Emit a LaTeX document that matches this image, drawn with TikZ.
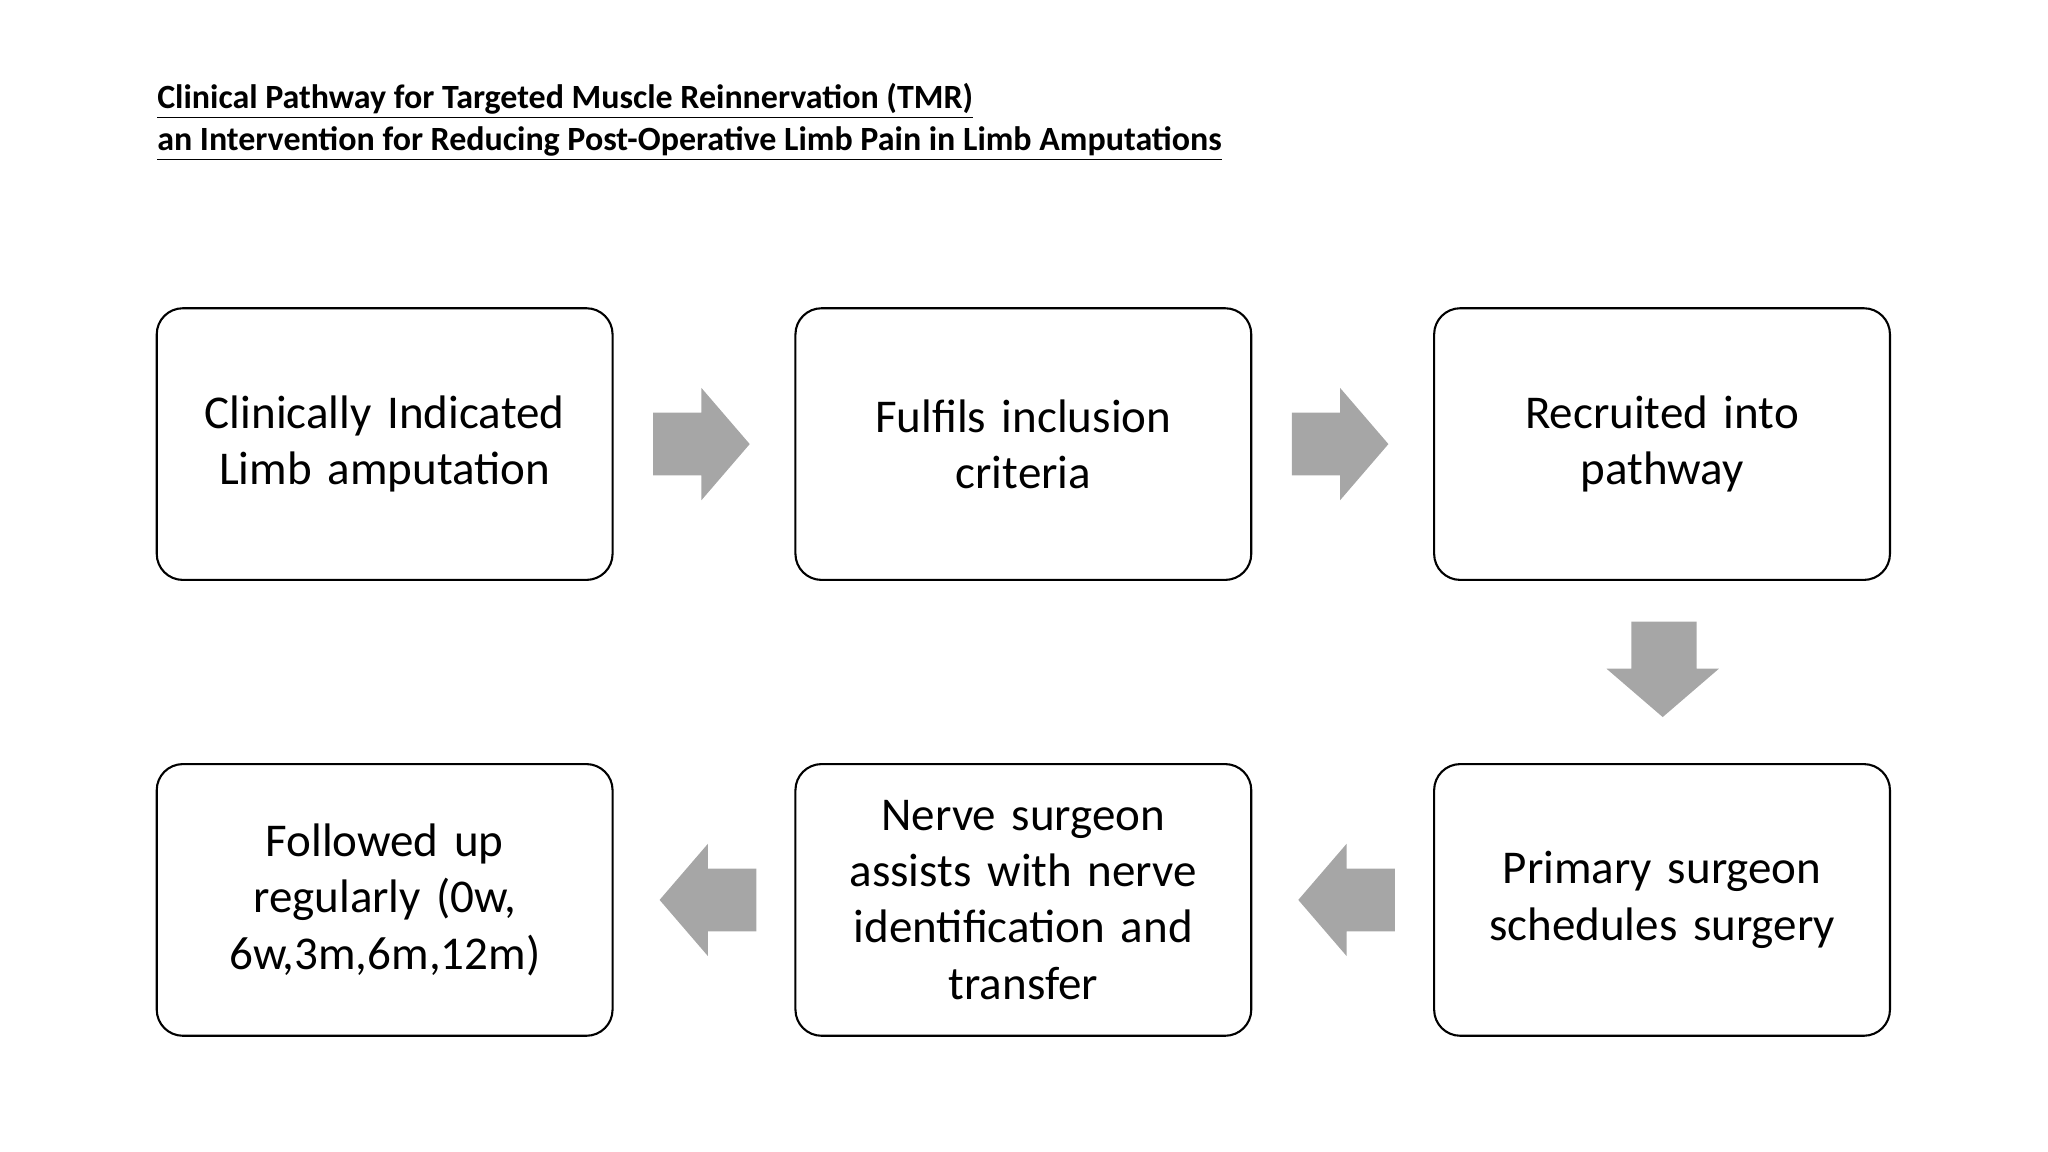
\documentclass[tikz,border=0pt]{standalone}
\usepackage{fontspec}
\setmainfont{Carlito}
\begin{document}
\begin{tikzpicture}[x=0.5pt,y=-0.5pt,
  stepbox/.style={draw=black,line width=0.8pt,rounded corners=10pt,minimum width=174.5pt,minimum height=104pt,align=center,font=\fontsize{18}{21.5}\selectfont,text width=165pt},
  blockarrow/.style={fill=black!35,draw=none},
  ttl/.style={anchor=base west,inner sep=0pt,font=\fontsize{13}{15}\selectfont\bfseries}]
\useasboundingbox (0,0) rectangle (1568,882);
\node[ttl] (t1) at (120,83) {\underline{Clinical Pathway for Targeted Muscle Reinnervation (TMR)}};
\node[ttl] (t2) at (120,115) {\underline{an Intervention for Reducing Post-Operative Limb Pain in Limb Amputations}};
\node[stepbox] (a) at (294.5,340) {Clinically Indicated\\Limb amputation};
\node[stepbox] (b) at (783.5,340) {Fulfils inclusion\\criteria};
\node[stepbox] (c) at (1272.5,340) {Recruited into\\pathway};
\node[stepbox] (d) at (1272.5,689) {Primary surgeon\\schedules surgery};
\node[stepbox] (e) at (783.5,689) {Nerve surgeon\\assists with nerve\\identification and\\transfer};
\node[stepbox] (f) at (294.5,689) {Followed up\\regularly (0w,\\6w,3m,6m,12m)};
% right arrows
\foreach \x in {500,989}{
  \fill[blockarrow] (\x,316) -- (\x+37,316) -- (\x+37,297) -- (\x+74,340) -- (\x+37,383) -- (\x+37,364) -- (\x,364) -- cycle;}
% down arrow
\fill[blockarrow] (1249,476) -- (1299,476) -- (1299,512) -- (1316,512) -- (1273,549) -- (1230,512) -- (1249,512) -- cycle;
% left arrows
\foreach \x in {579,1068}{
  \fill[blockarrow] (\x,665) -- (\x-37,665) -- (\x-37,646) -- (\x-74,689) -- (\x-37,732) -- (\x-37,713) -- (\x,713) -- cycle;}
\end{tikzpicture}
\end{document}
